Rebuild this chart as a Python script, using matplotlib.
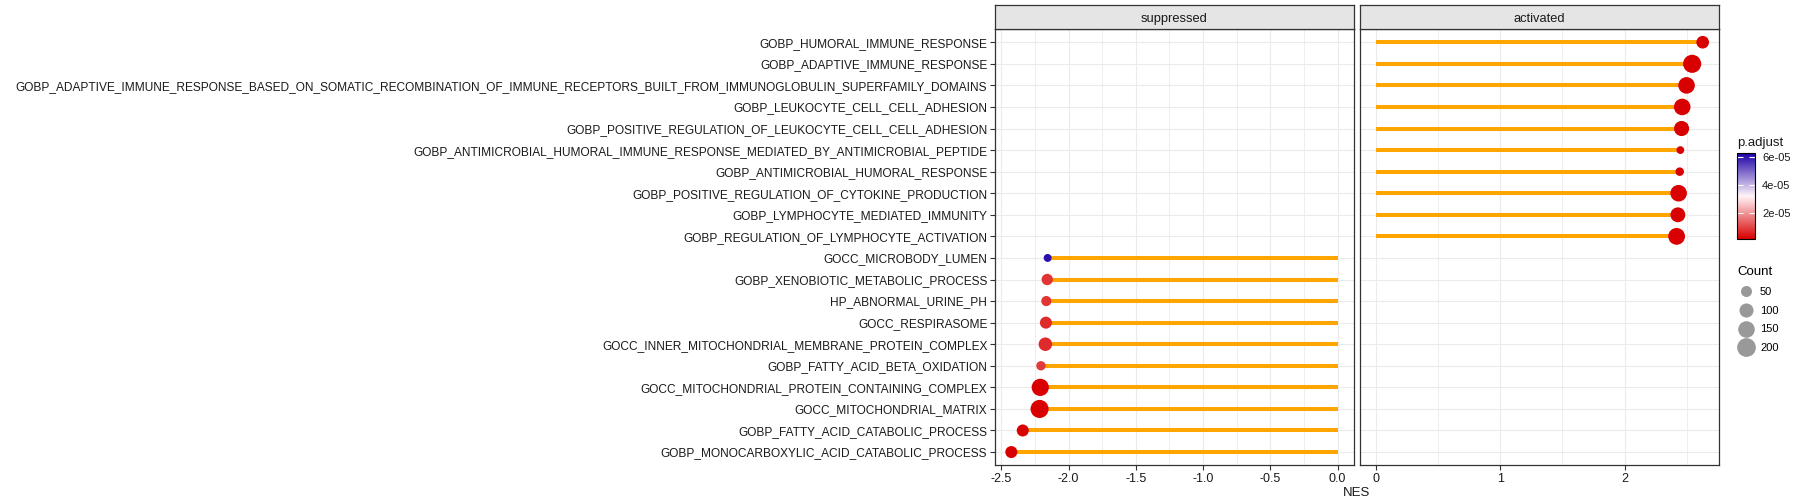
import numpy as np
import matplotlib.pyplot as plt
from matplotlib.colors import LinearSegmentedColormap, Normalize
from matplotlib.ticker import MultipleLocator, FixedLocator
from matplotlib.lines import Line2D

plt.rcParams["font.family"] = ["Liberation Sans", "DejaVu Sans"]

# -------------------------
# data (top to bottom)
# -------------------------
terms = [
    "GOBP_HUMORAL_IMMUNE_RESPONSE",
    "GOBP_ADAPTIVE_IMMUNE_RESPONSE",
    "GOBP_ADAPTIVE_IMMUNE_RESPONSE_BASED_ON_SOMATIC_RECOMBINATION_OF_IMMUNE_RECEPTORS_BUILT_FROM_IMMUNOGLOBULIN_SUPERFAMILY_DOMAINS",
    "GOBP_LEUKOCYTE_CELL_CELL_ADHESION",
    "GOBP_POSITIVE_REGULATION_OF_LEUKOCYTE_CELL_CELL_ADHESION",
    "GOBP_ANTIMICROBIAL_HUMORAL_IMMUNE_RESPONSE_MEDIATED_BY_ANTIMICROBIAL_PEPTIDE",
    "GOBP_ANTIMICROBIAL_HUMORAL_RESPONSE",
    "GOBP_POSITIVE_REGULATION_OF_CYTOKINE_PRODUCTION",
    "GOBP_LYMPHOCYTE_MEDIATED_IMMUNITY",
    "GOBP_REGULATION_OF_LYMPHOCYTE_ACTIVATION",
    "GOCC_MICROBODY_LUMEN",
    "GOBP_XENOBIOTIC_METABOLIC_PROCESS",
    "HP_ABNORMAL_URINE_PH",
    "GOCC_RESPIRASOME",
    "GOCC_INNER_MITOCHONDRIAL_MEMBRANE_PROTEIN_COMPLEX",
    "GOBP_FATTY_ACID_BETA_OXIDATION",
    "GOCC_MITOCHONDRIAL_PROTEIN_CONTAINING_COMPLEX",
    "GOCC_MITOCHONDRIAL_MATRIX",
    "GOBP_FATTY_ACID_CATABOLIC_PROCESS",
    "GOBP_MONOCARBOXYLIC_ACID_CATABOLIC_PROCESS",
]
nes = [2.63, 2.545, 2.50, 2.465, 2.46, 2.45, 2.445, 2.436, 2.43, 2.42,
       -2.155, -2.158, -2.165, -2.168, -2.172, -2.205, -2.21, -2.215, -2.34, -2.425]
counts = [75, 185, 150, 150, 120, 10, 18, 150, 115, 155,
          12, 55, 38, 65, 90, 28, 165, 185, 65, 65]
p_adjust = [1.5e-06] * 10 + [6.1e-05, 8e-06, 8e-06, 7e-06, 7e-06, 9e-06,
                             1.5e-06, 1.5e-06, 1.5e-06, 1.5e-06]
groups = ["activated"] * 10 + ["suppressed"] * 10

legend_counts = [50, 100, 150, 200]
cbar_ticks = [2e-05, 4e-05, 6e-05]

# -------------------------
# style
# -------------------------
cmap = LinearSegmentedColormap.from_list("padj", ["#D80000", "#FFF4F8", "#1E00A8"])
norm = Normalize(vmin=1.5e-06, vmax=6.3e-05)
seg_color = "#FFA500"
grid_color = "#EBEBEB"
border_color = "#333333"
text_color = "#1A1A1A"


def size_of(c):
    return 23.3 + 0.793 * np.asarray(c, dtype=float)


W, H = 1800, 504


def box(x0, y0, x1, y1):
    return [x0 / W, 1 - y1 / H, (x1 - x0) / W, (y1 - y0) / H]


fig = plt.figure(figsize=(18, 5.04), dpi=100)
ax_s = fig.add_axes(box(995, 29.3, 1354, 465))
ax_a = fig.add_axes(box(1360, 29.3, 1719, 465))

n = len(terms)
ypos = np.arange(n, 0, -1)
nes = np.array(nes)
counts = np.array(counts)
p_adjust = np.array(p_adjust)
groups = np.array(groups)

for ax, grp in [(ax_s, "suppressed"), (ax_a, "activated")]:
    m = groups == grp
    ax.hlines(ypos[m], 0, nes[m], color=seg_color, linewidth=2.9, zorder=2)
    ax.scatter(nes[m], ypos[m], s=size_of(counts[m]), c=p_adjust[m], cmap=cmap,
               norm=norm, edgecolors="none", zorder=3)
    ax.set_ylim(0.4, n + 0.6)
    ax.set_yticks(ypos)
    ax.grid(True, which="major", color=grid_color, linewidth=0.8, zorder=0)
    ax.grid(True, which="minor", axis="x", color=grid_color, linewidth=0.6, zorder=0)
    ax.set_axisbelow(True)
    for sp in ax.spines.values():
        sp.set_color(border_color)
        sp.set_linewidth(0.9)
    ax.tick_params(axis="x", which="major", length=3.5, width=0.8, color=border_color,
                   labelsize=9, labelcolor=text_color, pad=2)
    ax.tick_params(axis="x", which="minor", length=0)

    # facet strip
    pos = ax.get_position()
    strip = fig.add_axes([pos.x0, pos.y1, pos.width, 24 / H])
    strip.set_facecolor("#E5E5E5")
    strip.set_xticks([])
    strip.set_yticks([])
    for sp in strip.spines.values():
        sp.set_color(border_color)
        sp.set_linewidth(0.9)
    strip.text(0.5, 0.45, grp, ha="center", va="center", fontsize=9.3, color=text_color,
               transform=strip.transAxes)

# suppressed panel axis
smin = nes[groups == "suppressed"].min()
ax_s.set_xlim(smin * 1.05, -smin * 0.05)
ax_s.xaxis.set_major_locator(FixedLocator([-2.5, -2.0, -1.5, -1.0, -0.5, 0.0]))
ax_s.xaxis.set_minor_locator(MultipleLocator(0.25))
ax_s.set_xticklabels(["-2.5", "-2.0", "-1.5", "-1.0", "-0.5", "0.0"])
ax_s.set_yticklabels(terms)
ax_s.tick_params(axis="y", length=3.5, width=0.8, color=border_color, labelsize=8.55,
                 labelcolor=text_color, pad=2)

# activated panel axis
amax = nes[groups == "activated"].max()
ax_a.set_xlim(-amax * 0.05, amax * 1.05)
ax_a.xaxis.set_major_locator(FixedLocator([0, 1, 2]))
ax_a.xaxis.set_minor_locator(FixedLocator([0.5, 1.5, 2.5]))
ax_a.set_xticklabels(["0", "1", "2"])
ax_a.tick_params(axis="y", length=0, labelleft=False)

fig.text(1357 / W, 1 - 492.7 / H, "NES", ha="center", va="center", fontsize=9.5,
         color=text_color)

# -------------------------
# legends
# -------------------------
cax = fig.add_axes(box(1737, 153.3, 1755, 239))
sm = plt.cm.ScalarMappable(cmap=cmap, norm=norm)
sm.set_array([])
cbar = fig.colorbar(sm, cax=cax, ticks=cbar_ticks)
cbar.ax.set_yticklabels(["2e-05", "4e-05", "6e-05"])
cbar.ax.tick_params(direction="in", color="white", length=4, width=0.8, left=True,
                    right=True, labelsize=8, labelcolor=text_color, pad=5)
cbar.outline.set_edgecolor("black")
cbar.outline.set_linewidth(0.8)
cax.set_title("p.adjust", loc="left", fontsize=9.5, color=text_color, pad=5)

handles = [Line2D([], [], linestyle="none", marker="o", markersize=np.sqrt(size_of(c)),
                  markerfacecolor="#999999", markeredgecolor="none") for c in legend_counts]
leg = fig.legend(handles, [str(c) for c in legend_counts], title="Count",
                 loc="upper left", bbox_to_anchor=(1730 / W, 1 - 258 / H), frameon=False,
                 fontsize=8, title_fontsize=9.5, handletextpad=0.6, labelspacing=0.8,
                 borderpad=0.2, alignment="left", handlelength=1.4)

fig.savefig("out.png", dpi=100)
